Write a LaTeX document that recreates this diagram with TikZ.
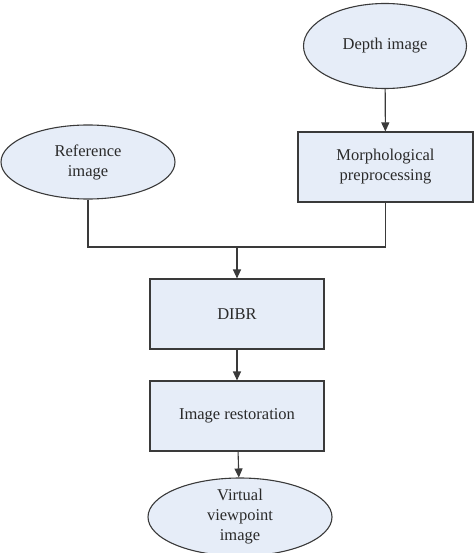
\documentclass[tikz,border=0pt]{standalone}
\usepackage{fontspec}
\setmainfont{Liberation Serif}
\usetikzlibrary{shapes.geometric,arrows.meta}
\definecolor{boxfill}{HTML}{E6EDF8}
\definecolor{lineclr}{HTML}{3A3A3A}
\definecolor{txtclr}{HTML}{2A2A2A}
\begin{document}
\begin{tikzpicture}[x=1pt,y=-1pt,
  base/.style={draw=lineclr,fill=boxfill,line width=1.1pt,inner sep=0pt,align=center,
    text=txtclr,font=\fontsize{16.5}{20}\selectfont},
  ell/.style={base,ellipse},
  proc/.style={base,rectangle,minimum width=175pt,minimum height=70pt},
  conn/.style={draw=lineclr,line width=1.1pt},
  arr/.style={conn,-{Triangle[length=9pt,width=8pt]}}]
\useasboundingbox (0,0) rectangle (474,553);
\node[ell,minimum width=163pt,minimum height=85pt] (depth) at (385,46) {Depth image};
\node[proc] (morph) at (385.5,167) {Morphological\\preprocessing};
\node[ell,minimum width=174pt,minimum height=74pt] (ref) at (88,162) {Reference\\image};
\node[proc,minimum width=174pt] (dibr) at (237,314) {DIBR};
\node[proc,minimum width=174pt] (restore) at (237,416) {Image restoration};
\node[ell,minimum width=184pt,minimum height=78pt] (virt) at (240,517) {Virtual\\viewpoint\\image};
\coordinate (join) at (237,247);
\draw[arr] (depth) -- (morph);
\draw[conn] (ref.south) |- (join) -| (morph.south);
\draw[arr] (join) -- (dibr.north);
\draw[arr] (dibr) -- (restore);
\draw[arr] (restore) -- (virt);
\end{tikzpicture}
\end{document}
